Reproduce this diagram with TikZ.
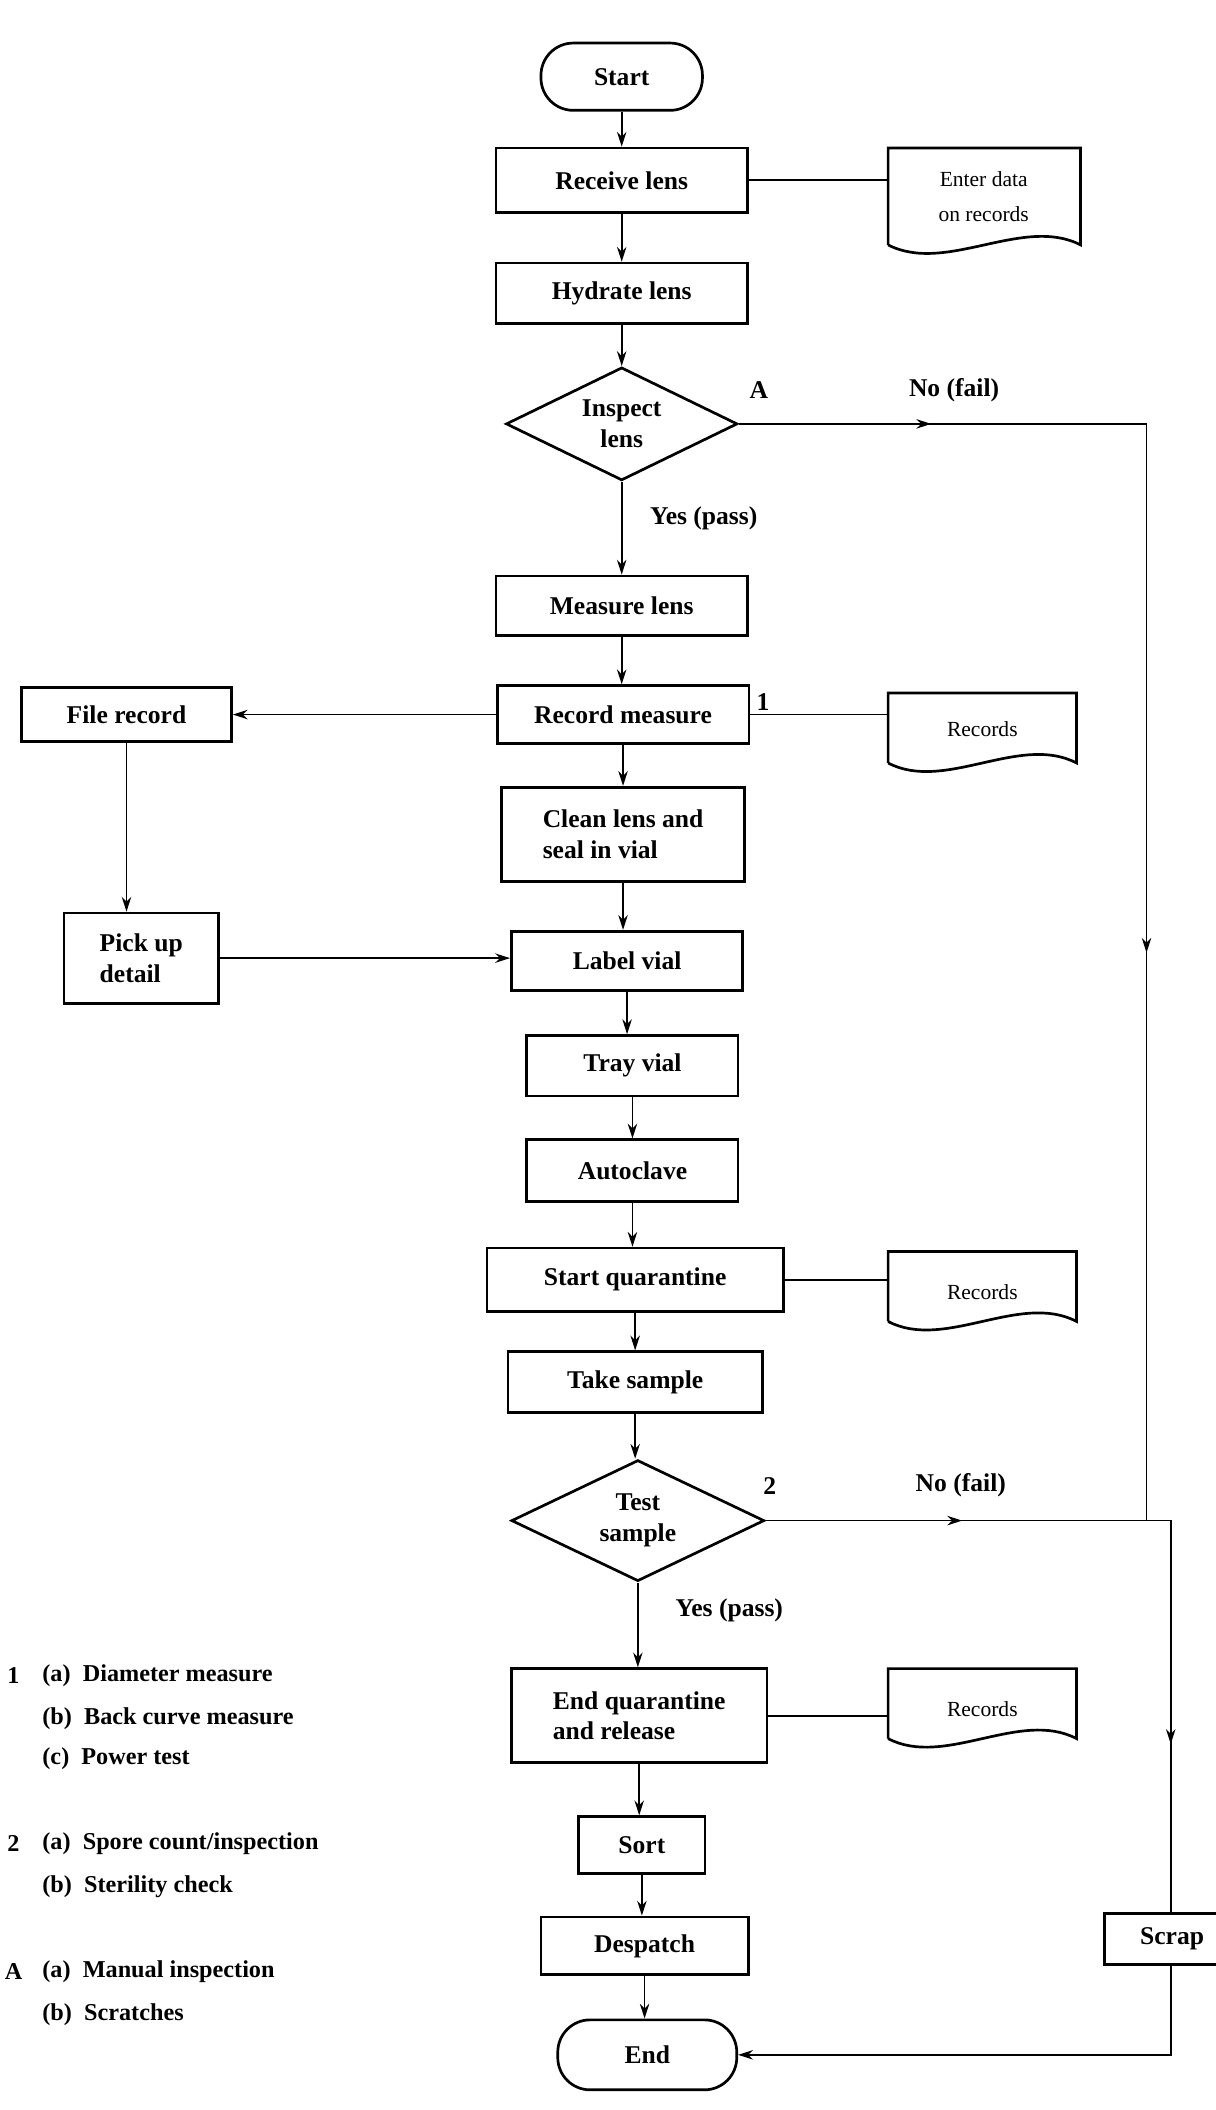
\documentclass[tikz,border=0pt]{standalone}
\usepackage{fontspec}
\setmainfont{Liberation Serif}
\usetikzlibrary{shapes.geometric,arrows.meta}
\begin{document}
\begin{tikzpicture}[x=1pt,y=1pt,yscale=-1,
  box/.style={draw,line width=2pt,font=\fontsize{19}{23}\selectfont\bfseries,align=left,inner sep=0pt},
  term/.style={box,rounded corners=24pt},
  dec/.style={box,diamond,aspect=2.05,align=center,font=\fontsize{19}{23}\selectfont\bfseries},
  doc/.style={inner sep=0pt,font=\fontsize{16}{26}\selectfont,align=center},
  con/.style={line width=1.3pt},
  arr/.style={con,-{Stealth[length=11pt,width=7pt]}},
  lab/.style={font=\fontsize{19}{23}\selectfont\bfseries},
  leg/.style={font=\fontsize{18}{22}\selectfont\bfseries,anchor=west}]
\useasboundingbox (0,0) rectangle (903,1568);
\fill[white] (0,0) rectangle (903,1568);
\newcommand{\docpath}[4]{%
  \draw[line width=2pt] (#1,#4) -- (#1,#2) -- (#3,#2) -- (#3,#4)
    .. controls ({#3-0.3*(#3-#1)},{#4-22}) and ({#1+0.3*(#3-#1)},{#4+22}) .. (#1,#4);}
% main column
\node[term,minimum width=120pt,minimum height=50pt,align=center] (start) at (462,57) {Start};
\node[box,minimum width=187pt,minimum height=48pt,align=center] (recv) at (462,134) {Receive lens};
\node[box,minimum width=187pt,minimum height=45pt,align=center] (hyd) at (462,218) {Hydrate lens};
\node[dec,minimum width=172pt,minimum height=84pt] (insp) at (462,315) {Inspect\\lens};
\node[box,minimum width=187pt,minimum height=44pt,align=center] (meas) at (462,450) {Measure lens};
\node[box,minimum width=187pt,minimum height=43pt,align=center] (rec) at (463,531) {Record measure};
\node[box,minimum width=181pt,minimum height=70pt] (clean) at (463,620) {Clean lens and\\seal in vial};
\node[box,minimum width=172pt,minimum height=44pt,align=center] (label) at (466,714) {Label vial};
\node[box,minimum width=157pt,minimum height=45pt,align=center] (tray) at (470,792) {Tray vial};
\node[box,minimum width=157pt,minimum height=46pt,align=center] (auto) at (470,870) {Autoclave};
\node[box,minimum width=220pt,minimum height=47pt,align=center] (sq) at (472,951) {Start quarantine};
\node[box,minimum width=189pt,minimum height=45pt,align=center] (take) at (472,1027) {Take sample};
\node[dec,minimum width=188pt,minimum height=90pt] (test) at (474,1130) {Test\\sample};
\node[box,minimum width=190pt,minimum height=70pt] (eq) at (475,1275) {End quarantine\\and release};
\node[box,minimum width=94pt,minimum height=42pt,align=center] (sort) at (477,1371) {Sort};
\node[box,minimum width=154pt,minimum height=43pt,align=center] (desp) at (479,1446) {Despatch};
\node[term,minimum width=133pt,minimum height=52pt,align=center] (end) at (481,1527) {End};
% left
\node[box,minimum width=156pt,minimum height=40pt,align=center] (file) at (94,531) {File record};
\node[box,minimum width=115pt,minimum height=67pt] (pick) at (105,712) {Pick up\\detail};
% scrap
\node[box,minimum width=100pt,minimum height=38pt,anchor=west] (scrap) at (820,1441) {Scrap};
% documents
\node[doc,minimum width=143pt,minimum height=70pt] (d1) at (731,146) {Enter data\\on records};
\docpath{660}{110}{803}{182}
\node[doc,minimum width=140pt,minimum height=50pt] (d2) at (730,542) {Records};
\docpath{660}{515}{800}{567}
\node[doc,minimum width=140pt,minimum height=50pt] (d3) at (730,960) {Records};
\docpath{660}{930}{800}{982}
\node[doc,minimum width=140pt,minimum height=50pt] (d4) at (730,1270) {Records};
\docpath{660}{1240}{800}{1292}
% main flow
\foreach \a/\b in {start/recv,recv/hyd,hyd/insp,insp/meas,meas/rec,rec/clean,clean/label,label/tray,tray/auto,auto/sq,sq/take,take/test,test/eq,eq/sort,sort/desp,desp/end}
  \draw[arr] (\a.south) -- (\a.south |- \b.north);
\draw[con] (recv.east) -- (660,134);
\draw[con] (rec.east) -- (660,531);
\draw[con] (sq.east) -- (660,951);
\draw[con] (eq.east) -- (660,1275);
\draw[arr] (rec.west) -- (file.east);
\draw[arr] (file.south) -- (file.south |- pick.north);
\draw[arr] (pick.east) -- (label.west |- pick.east);
% fail branches
\coordinate (r1) at (852,315);
\draw[con] (insp.east) -- (r1);
\draw[arr] (insp.east) -- (692,315);
\draw[con] (r1) -- (852,1130);
\draw[arr] (r1) -- (852,708);
\draw[con] (test.east) -- (870,1130) -- (870,1422);
\draw[arr] (test.east) -- (715,1130);
\draw[arr] (870,1130) -- (870,1296);
\draw[arr] (870,1460) -- (870,1527) -- (end.east);
% labels
\node[lab] at (564,290) {A};
\node[lab] at (709,290) {No (fail)};
\node[lab] at (523,385) {Yes (pass)};
\node[lab] at (567,522) {1};
\node[lab] at (572,1104) {2};
\node[lab] at (714,1104) {No (fail)};
\node[lab] at (542,1197) {Yes (pass)};
% legend
\node[leg] at (2,1245) {1};  \node[leg] at (28,1245) {(a)\ \ Diameter measure};
\node[leg] at (28,1277) {(b)\ \ Back curve measure};
\node[leg] at (28,1307) {(c)\ \ Power test};
\node[leg] at (2,1370) {2};  \node[leg] at (28,1370) {(a)\ \ Spore count/inspection};
\node[leg] at (28,1402) {(b)\ \ Sterility check};
\node[leg] at (0,1465) {A};  \node[leg] at (28,1465) {(a)\ \ Manual inspection};
\node[leg] at (28,1497) {(b)\ \ Scratches};
\end{tikzpicture}
\end{document}
